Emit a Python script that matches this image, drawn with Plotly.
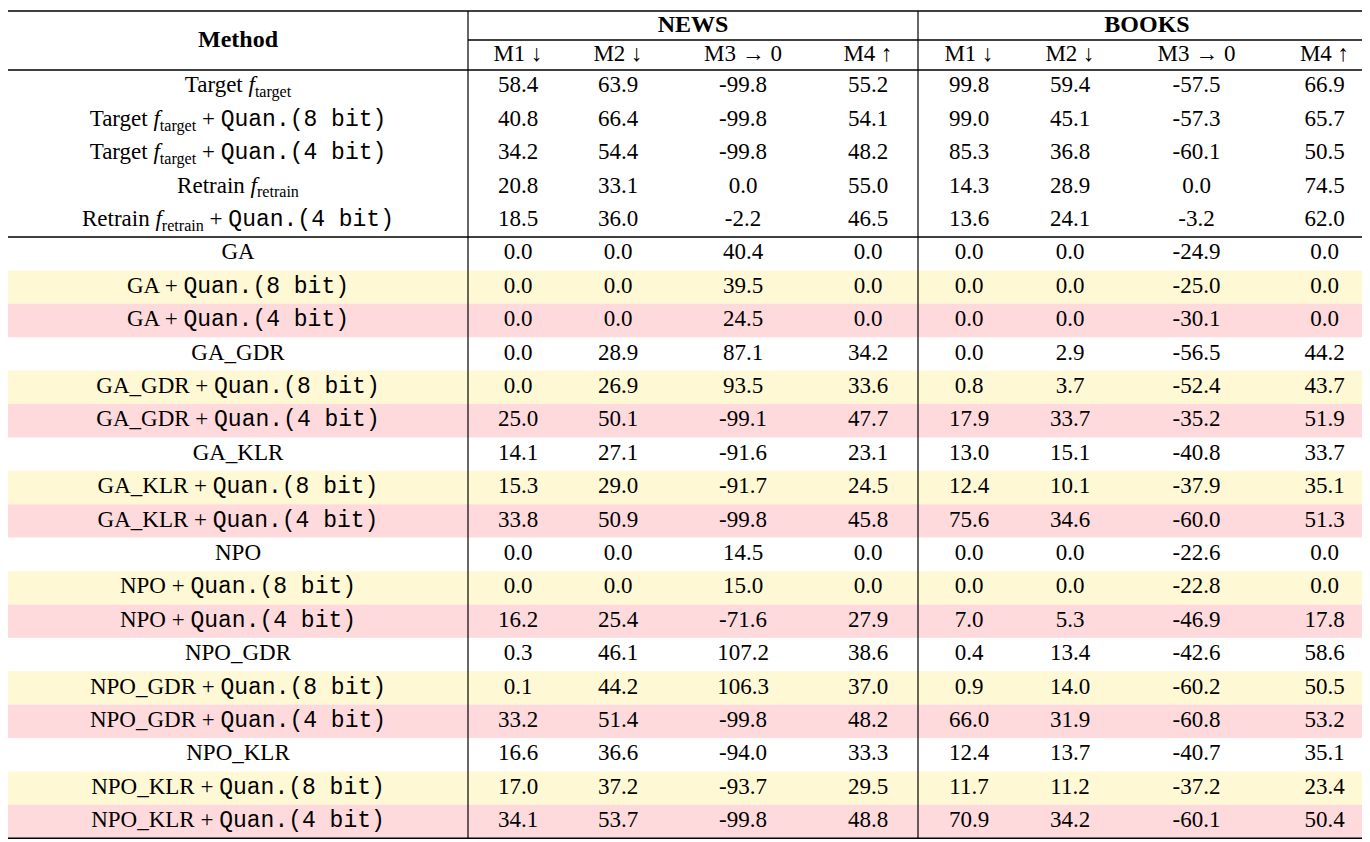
import plotly.graph_objects as go

H, W = 842, 1370
mono = '<span style="font-family:Liberation Mono">'
def q(b): return f'{mono}Quan.(%s bit)</span>' % b

methods = [
    "Target <i>f</i><sub>target</sub>",
    "Target <i>f</i><sub>target</sub> + " + q(8),
    "Target <i>f</i><sub>target</sub> + " + q(4),
    "Retrain <i>f</i><sub>retrain</sub>",
    "Retrain <i>f</i><sub>retrain</sub> + " + q(4),
]
for m in ["GA", "GA_GDR", "GA_KLR", "NPO", "NPO_GDR", "NPO_KLR"]:
    methods += [m, m + " + " + q(8), m + " + " + q(4)]

metrics = ["M1 ↓", "M2 ↓", "M3 → 0", "M4 ↑"]
groups = ["NEWS", "BOOKS"]
news_m1 = [58.4,40.8,34.2,20.8,18.5,0.0,0.0,0.0,0.0,0.0,25.0,14.1,15.3,33.8,0.0,0.0,16.2,0.3,0.1,33.2,16.6,17.0,34.1]
news_m2 = [63.9,66.4,54.4,33.1,36.0,0.0,0.0,0.0,28.9,26.9,50.1,27.1,29.0,50.9,0.0,0.0,25.4,46.1,44.2,51.4,36.6,37.2,53.7]
news_m3 = [-99.8,-99.8,-99.8,0.0,-2.2,40.4,39.5,24.5,87.1,93.5,-99.1,-91.6,-91.7,-99.8,14.5,15.0,-71.6,107.2,106.3,-99.8,-94.0,-93.7,-99.8]
news_m4 = [55.2,54.1,48.2,55.0,46.5,0.0,0.0,0.0,34.2,33.6,47.7,23.1,24.5,45.8,0.0,0.0,27.9,38.6,37.0,48.2,33.3,29.5,48.8]
books_m1 = [99.8,99.0,85.3,14.3,13.6,0.0,0.0,0.0,0.0,0.8,17.9,13.0,12.4,75.6,0.0,0.0,7.0,0.4,0.9,66.0,12.4,11.7,70.9]
books_m2 = [59.4,45.1,36.8,28.9,24.1,0.0,0.0,0.0,2.9,3.7,33.7,15.1,10.1,34.6,0.0,0.0,5.3,13.4,14.0,31.9,13.7,11.2,34.2]
books_m3 = [-57.5,-57.3,-60.1,0.0,-3.2,-24.9,-25.0,-30.1,-56.5,-52.4,-35.2,-40.8,-37.9,-60.0,-22.6,-22.8,-46.9,-42.6,-60.2,-60.8,-40.7,-37.2,-60.1]
books_m4 = [66.9,65.7,50.5,74.5,62.0,0.0,0.0,0.0,44.2,43.7,51.9,33.7,35.1,51.3,0.0,0.0,17.8,58.6,50.5,53.2,35.1,23.4,50.4]

WHITE, YEL, PINK = "#ffffff", "#fef9d4", "#fedadd"
row_fill = [WHITE]*5 + [WHITE, YEL, PINK]*6

value_cols = [news_m1, news_m2, news_m3, news_m4, books_m1, books_m2, books_m3, books_m4]
widths = [460, 100, 100, 150, 100, 102, 100, 153, 103]
edges = [0]
for w in widths: edges.append(edges[-1] + w)
centers = [(edges[i] + edges[i+1]) / 2 for i in range(len(widths))]

TOP, MID, HDR, RH = 3, 32, 62, 33.4
n = len(methods)
row_y = [HDR + RH * (i + 0.5) for i in range(n)]
BOTTOM = HDR + RH * n
FONT = dict(family="Liberation Serif", size=23, color="black")

fig = go.Figure()
shapes = []
for i, c in enumerate(row_fill):
    if c != WHITE:
        shapes.append(dict(type="rect", xref="x", yref="y", x0=0, x1=edges[-1],
                           y0=HDR + RH*i, y1=HDR + RH*(i+1), fillcolor=c,
                           line=dict(width=0), layer="below"))

fig.add_trace(go.Scatter(x=[centers[0]]*n, y=row_y, text=methods, mode="text",
                         textfont=FONT, hoverinfo="skip", showlegend=False))
for j, col in enumerate(value_cols):
    fig.add_trace(go.Scatter(x=[centers[j+1]]*n, y=row_y, text=[f"{v:.1f}" for v in col],
                             mode="text", textfont=FONT, hoverinfo="skip", showlegend=False))
fig.add_trace(go.Scatter(x=centers[1:], y=[(MID + HDR)/2]*8, text=metrics*2, mode="text",
                         textfont=FONT, hoverinfo="skip", showlegend=False))
BOLD = dict(family="Liberation Serif", size=24, color="black")
fig.add_trace(go.Scatter(x=[centers[0], (edges[1]+edges[5])/2, (edges[5]+edges[9])/2],
                         y=[(TOP+HDR)/2, (TOP+MID)/2, (TOP+MID)/2],
                         text=["<b>Method</b>"] + [f"<b>{g}</b>" for g in groups],
                         mode="text", textfont=BOLD, hoverinfo="skip", showlegend=False))

def hl(y, x0=0, x1=None, w=1.5):
    shapes.append(dict(type="line", xref="x", yref="y", x0=x0, x1=x1 if x1 else edges[-1],
                       y0=y, y1=y, line=dict(color="black", width=w)))
hl(TOP); hl(MID, edges[1]); hl(HDR); hl(HDR + RH*5); hl(BOTTOM)
for x in [edges[1], edges[5]]:
    shapes.append(dict(type="line", xref="x", yref="y", x0=x, x1=x, y0=TOP, y1=BOTTOM,
                       line=dict(color="black", width=1.2)))

fig.update_layout(width=W, height=H, margin=dict(l=0, r=0, t=0, b=0),
                  paper_bgcolor="white", plot_bgcolor="white", shapes=shapes,
                  xaxis=dict(range=[0, W], visible=False, fixedrange=True),
                  yaxis=dict(range=[H, 0], visible=False, fixedrange=True))
fig.write_html("out.html")
